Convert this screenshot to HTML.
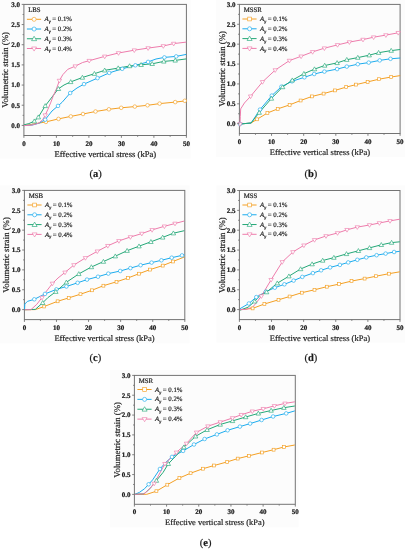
<!DOCTYPE html>
<html><head><meta charset="utf-8"><style>
html,body{margin:0;padding:0;background:#fff;}
body{width:405px;height:550px;overflow:hidden;}
svg{display:block;will-change:transform;filter:blur(0.3px);}
text{-webkit-font-smoothing:antialiased;}
text{font-family:"Liberation Serif",serif;fill:#1a1a1a;text-rendering:geometricPrecision;}
.tk{font-size:7.0px;font-weight:bold;stroke:#1a1a1a;stroke-width:0.22px;}
.ti{font-size:8.6px;stroke:#1a1a1a;stroke-width:0.18px;}
.lg{font-size:6.8px;stroke:#1a1a1a;stroke-width:0.18px;}
.yti{font-size:8.75px;}
.lt{stroke-width:0.2px;}
.cap{font-size:10.5px;stroke:#1a1a1a;stroke-width:0.2px;}
</style></head><body>
<svg width="405" height="550" viewBox="0 0 405 550">
<rect x="0" y="0" width="405" height="550" fill="#fff"/>
<g fill="#FCFCFC">
<rect x="0" y="0" width="190.5" height="158.7"/>
<rect x="216" y="0" width="189" height="156.8"/>
<rect x="0" y="185.5" width="189.6" height="157.8"/>
<rect x="216.3" y="185.5" width="188.7" height="157.1"/>
<rect x="110" y="370" width="188.5" height="157.4"/>
</g>
<rect x="23.90" y="4.40" width="162.50" height="131.10" fill="none" stroke="#737373" stroke-width="1"/>
<polyline points="24.00,125.60 32.90,124.10 45.90,121.90 58.50,118.90 70.80,116.40 83.00,114.00 95.50,111.50 108.90,109.30 121.20,107.80 134.80,106.60 147.50,105.30 159.60,103.60 175.20,102.10 186.30,100.80" fill="none" stroke="#F4A024" stroke-width="1" stroke-linejoin="round"/>
<polyline points="24.00,125.60 31.90,125.10 39.30,123.10 45.20,119.70 48.70,115.20 52.00,111.00 58.00,105.90 62.00,102.40 70.20,93.00 77.00,88.00 84.00,84.10 97.50,78.10 109.20,72.90 122.20,68.80 135.40,65.30 148.10,61.90 156.00,59.00 164.40,57.40 176.20,56.40 186.30,54.40" fill="none" stroke="#1CACEE" stroke-width="1" stroke-linejoin="round"/>
<polyline points="24.00,124.80 28.90,123.60 34.30,121.20 38.30,117.20 45.20,105.90 53.60,95.00 58.40,88.80 64.00,85.00 70.70,81.90 82.40,77.50 94.40,73.70 104.70,70.30 118.20,68.10 129.60,66.00 141.10,64.80 152.20,63.80 163.80,61.40 175.20,60.40 186.30,58.90" fill="none" stroke="#25A878" stroke-width="1" stroke-linejoin="round"/>
<polyline points="24.00,125.60 31.90,125.10 38.80,123.10 42.70,119.70 45.20,115.20 47.70,109.80 50.60,102.90 53.60,95.00 56.40,89.00 59.40,80.60 62.80,74.70 67.80,69.30 75.20,66.20 82.60,62.50 89.20,60.70 104.70,56.40 118.50,53.00 134.30,50.20 148.10,48.10 163.30,46.00 173.70,43.60 186.30,42.10" fill="none" stroke="#EE7CAC" stroke-width="1" stroke-linejoin="round"/>
<circle cx="45.90" cy="121.90" r="1.80" fill="#fff" stroke="#F4A024" stroke-width="0.65"/>
<circle cx="58.50" cy="118.90" r="1.80" fill="#fff" stroke="#F4A024" stroke-width="0.65"/>
<circle cx="70.80" cy="116.40" r="1.80" fill="#fff" stroke="#F4A024" stroke-width="0.65"/>
<circle cx="83.00" cy="114.00" r="1.80" fill="#fff" stroke="#F4A024" stroke-width="0.65"/>
<circle cx="95.50" cy="111.50" r="1.80" fill="#fff" stroke="#F4A024" stroke-width="0.65"/>
<circle cx="108.90" cy="109.30" r="1.80" fill="#fff" stroke="#F4A024" stroke-width="0.65"/>
<circle cx="121.20" cy="107.80" r="1.80" fill="#fff" stroke="#F4A024" stroke-width="0.65"/>
<circle cx="134.80" cy="106.60" r="1.80" fill="#fff" stroke="#F4A024" stroke-width="0.65"/>
<circle cx="147.50" cy="105.30" r="1.80" fill="#fff" stroke="#F4A024" stroke-width="0.65"/>
<circle cx="159.60" cy="103.60" r="1.80" fill="#fff" stroke="#F4A024" stroke-width="0.65"/>
<circle cx="175.20" cy="102.10" r="1.80" fill="#fff" stroke="#F4A024" stroke-width="0.65"/>
<circle cx="184.80" cy="100.80" r="1.80" fill="#fff" stroke="#F4A024" stroke-width="0.65"/>
<circle cx="45.20" cy="119.70" r="1.80" fill="#fff" stroke="#1CACEE" stroke-width="0.65"/>
<circle cx="58.00" cy="105.90" r="1.80" fill="#fff" stroke="#1CACEE" stroke-width="0.65"/>
<circle cx="70.20" cy="93.00" r="1.80" fill="#fff" stroke="#1CACEE" stroke-width="0.65"/>
<circle cx="84.00" cy="84.10" r="1.80" fill="#fff" stroke="#1CACEE" stroke-width="0.65"/>
<circle cx="97.50" cy="78.10" r="1.80" fill="#fff" stroke="#1CACEE" stroke-width="0.65"/>
<circle cx="109.20" cy="72.90" r="1.80" fill="#fff" stroke="#1CACEE" stroke-width="0.65"/>
<circle cx="122.20" cy="68.80" r="1.80" fill="#fff" stroke="#1CACEE" stroke-width="0.65"/>
<circle cx="135.40" cy="65.30" r="1.80" fill="#fff" stroke="#1CACEE" stroke-width="0.65"/>
<circle cx="148.10" cy="61.90" r="1.80" fill="#fff" stroke="#1CACEE" stroke-width="0.65"/>
<circle cx="164.40" cy="57.40" r="1.80" fill="#fff" stroke="#1CACEE" stroke-width="0.65"/>
<circle cx="176.20" cy="56.40" r="1.80" fill="#fff" stroke="#1CACEE" stroke-width="0.65"/>
<path d="M34.30,118.95L36.55,122.89L32.05,122.89Z" fill="#fff" stroke="#25A878" stroke-width="0.65"/>
<path d="M38.30,114.95L40.55,118.89L36.05,118.89Z" fill="#fff" stroke="#25A878" stroke-width="0.65"/>
<path d="M45.20,103.65L47.45,107.59L42.95,107.59Z" fill="#fff" stroke="#25A878" stroke-width="0.65"/>
<path d="M58.40,86.55L60.65,90.49L56.15,90.49Z" fill="#fff" stroke="#25A878" stroke-width="0.65"/>
<path d="M70.70,79.65L72.95,83.59L68.45,83.59Z" fill="#fff" stroke="#25A878" stroke-width="0.65"/>
<path d="M82.40,75.25L84.65,79.19L80.15,79.19Z" fill="#fff" stroke="#25A878" stroke-width="0.65"/>
<path d="M94.40,71.45L96.65,75.39L92.15,75.39Z" fill="#fff" stroke="#25A878" stroke-width="0.65"/>
<path d="M104.70,68.05L106.95,71.99L102.45,71.99Z" fill="#fff" stroke="#25A878" stroke-width="0.65"/>
<path d="M118.20,65.85L120.45,69.79L115.95,69.79Z" fill="#fff" stroke="#25A878" stroke-width="0.65"/>
<path d="M129.60,63.75L131.85,67.69L127.35,67.69Z" fill="#fff" stroke="#25A878" stroke-width="0.65"/>
<path d="M141.10,62.55L143.35,66.49L138.85,66.49Z" fill="#fff" stroke="#25A878" stroke-width="0.65"/>
<path d="M152.20,61.55L154.45,65.49L149.95,65.49Z" fill="#fff" stroke="#25A878" stroke-width="0.65"/>
<path d="M163.80,59.15L166.05,63.09L161.55,63.09Z" fill="#fff" stroke="#25A878" stroke-width="0.65"/>
<path d="M175.20,58.15L177.45,62.09L172.95,62.09Z" fill="#fff" stroke="#25A878" stroke-width="0.65"/>
<path d="M45.20,117.51L47.40,113.88L43.00,113.88Z" fill="#fff" stroke="#EE7CAC" stroke-width="0.65"/>
<path d="M59.40,82.91L61.60,79.28L57.20,79.28Z" fill="#fff" stroke="#EE7CAC" stroke-width="0.65"/>
<path d="M75.20,68.51L77.40,64.88L73.00,64.88Z" fill="#fff" stroke="#EE7CAC" stroke-width="0.65"/>
<path d="M89.20,63.01L91.40,59.38L87.00,59.38Z" fill="#fff" stroke="#EE7CAC" stroke-width="0.65"/>
<path d="M104.70,58.71L106.90,55.08L102.50,55.08Z" fill="#fff" stroke="#EE7CAC" stroke-width="0.65"/>
<path d="M118.50,55.31L120.70,51.68L116.30,51.68Z" fill="#fff" stroke="#EE7CAC" stroke-width="0.65"/>
<path d="M134.30,52.51L136.50,48.88L132.10,48.88Z" fill="#fff" stroke="#EE7CAC" stroke-width="0.65"/>
<path d="M148.10,50.41L150.30,46.78L145.90,46.78Z" fill="#fff" stroke="#EE7CAC" stroke-width="0.65"/>
<path d="M163.30,48.31L165.50,44.68L161.10,44.68Z" fill="#fff" stroke="#EE7CAC" stroke-width="0.65"/>
<path d="M173.70,45.91L175.90,42.28L171.50,42.28Z" fill="#fff" stroke="#EE7CAC" stroke-width="0.65"/>
<line x1="21.70" y1="125.40" x2="23.90" y2="125.40" stroke="#737373" stroke-width="0.9"/>
<text x="20.10" y="127.80" text-anchor="end" class="tk">0.0</text>
<line x1="22.60" y1="115.32" x2="23.90" y2="115.32" stroke="#737373" stroke-width="0.9"/>
<line x1="21.70" y1="105.23" x2="23.90" y2="105.23" stroke="#737373" stroke-width="0.9"/>
<text x="20.10" y="107.63" text-anchor="end" class="tk">0.5</text>
<line x1="22.60" y1="95.15" x2="23.90" y2="95.15" stroke="#737373" stroke-width="0.9"/>
<line x1="21.70" y1="85.07" x2="23.90" y2="85.07" stroke="#737373" stroke-width="0.9"/>
<text x="20.10" y="87.47" text-anchor="end" class="tk">1.0</text>
<line x1="22.60" y1="74.98" x2="23.90" y2="74.98" stroke="#737373" stroke-width="0.9"/>
<line x1="21.70" y1="64.90" x2="23.90" y2="64.90" stroke="#737373" stroke-width="0.9"/>
<text x="20.10" y="67.30" text-anchor="end" class="tk">1.5</text>
<line x1="22.60" y1="54.82" x2="23.90" y2="54.82" stroke="#737373" stroke-width="0.9"/>
<line x1="21.70" y1="44.73" x2="23.90" y2="44.73" stroke="#737373" stroke-width="0.9"/>
<text x="20.10" y="47.13" text-anchor="end" class="tk">2.0</text>
<line x1="22.60" y1="34.65" x2="23.90" y2="34.65" stroke="#737373" stroke-width="0.9"/>
<line x1="21.70" y1="24.57" x2="23.90" y2="24.57" stroke="#737373" stroke-width="0.9"/>
<text x="20.10" y="26.97" text-anchor="end" class="tk">2.5</text>
<line x1="22.60" y1="14.48" x2="23.90" y2="14.48" stroke="#737373" stroke-width="0.9"/>
<line x1="21.70" y1="4.40" x2="23.90" y2="4.40" stroke="#737373" stroke-width="0.9"/>
<text x="20.10" y="6.80" text-anchor="end" class="tk">3.0</text>
<line x1="23.90" y1="135.50" x2="23.90" y2="137.80" stroke="#737373" stroke-width="0.9"/>
<text x="23.90" y="145.60" text-anchor="middle" class="tk">0</text>
<line x1="40.15" y1="135.50" x2="40.15" y2="136.80" stroke="#737373" stroke-width="0.9"/>
<line x1="56.40" y1="135.50" x2="56.40" y2="137.80" stroke="#737373" stroke-width="0.9"/>
<text x="56.40" y="145.60" text-anchor="middle" class="tk">10</text>
<line x1="72.65" y1="135.50" x2="72.65" y2="136.80" stroke="#737373" stroke-width="0.9"/>
<line x1="88.90" y1="135.50" x2="88.90" y2="137.80" stroke="#737373" stroke-width="0.9"/>
<text x="88.90" y="145.60" text-anchor="middle" class="tk">20</text>
<line x1="105.15" y1="135.50" x2="105.15" y2="136.80" stroke="#737373" stroke-width="0.9"/>
<line x1="121.40" y1="135.50" x2="121.40" y2="137.80" stroke="#737373" stroke-width="0.9"/>
<text x="121.40" y="145.60" text-anchor="middle" class="tk">30</text>
<line x1="137.65" y1="135.50" x2="137.65" y2="136.80" stroke="#737373" stroke-width="0.9"/>
<line x1="153.90" y1="135.50" x2="153.90" y2="137.80" stroke="#737373" stroke-width="0.9"/>
<text x="153.90" y="145.60" text-anchor="middle" class="tk">40</text>
<line x1="170.15" y1="135.50" x2="170.15" y2="136.80" stroke="#737373" stroke-width="0.9"/>
<line x1="186.40" y1="135.50" x2="186.40" y2="137.80" stroke="#737373" stroke-width="0.9"/>
<text x="186.40" y="145.60" text-anchor="middle" class="tk">50</text>
<text x="105.40" y="156.50" text-anchor="middle" class="ti" style="font-size:8.65px">Effective vertical stress (kPa)</text>
<text transform="translate(8.10,69.95) rotate(-90)" text-anchor="middle" class="ti yti">Volumetric strain (%)</text>
<text x="28.20" y="12.10" class="lg lt">LBS</text>
<line x1="26.90" y1="19.30" x2="41.10" y2="19.30" stroke="#F4A024" stroke-width="1"/>
<circle cx="34.10" cy="19.30" r="2.02" fill="#fff" stroke="#F4A024" stroke-width="0.65"/>
<text x="44.50" y="21.40" class="lg"><tspan font-style="italic">A</tspan><tspan font-style="italic" font-size="4.8" dy="1.9">γ</tspan><tspan dy="-1.9"> = 0.1%</tspan></text>
<line x1="26.90" y1="29.03" x2="41.10" y2="29.03" stroke="#1CACEE" stroke-width="1"/>
<circle cx="34.10" cy="29.03" r="2.02" fill="#fff" stroke="#1CACEE" stroke-width="0.65"/>
<text x="44.50" y="31.13" class="lg"><tspan font-style="italic">A</tspan><tspan font-style="italic" font-size="4.8" dy="1.9">γ</tspan><tspan dy="-1.9"> = 0.2%</tspan></text>
<line x1="26.90" y1="38.76" x2="41.10" y2="38.76" stroke="#25A878" stroke-width="1"/>
<path d="M34.10,36.24L36.62,40.65L31.58,40.65Z" fill="#fff" stroke="#25A878" stroke-width="0.65"/>
<text x="44.50" y="40.86" class="lg"><tspan font-style="italic">A</tspan><tspan font-style="italic" font-size="4.8" dy="1.9">γ</tspan><tspan dy="-1.9"> = 0.3%</tspan></text>
<line x1="26.90" y1="48.49" x2="41.10" y2="48.49" stroke="#EE7CAC" stroke-width="1"/>
<path d="M34.10,51.07L36.56,47.01L31.64,47.01Z" fill="#fff" stroke="#EE7CAC" stroke-width="0.65"/>
<text x="44.50" y="50.59" class="lg"><tspan font-style="italic">A</tspan><tspan font-style="italic" font-size="4.8" dy="1.9">γ</tspan><tspan dy="-1.9"> = 0.4%</tspan></text>
<text x="95.50" y="176.75" text-anchor="middle" class="cap">(<tspan font-weight="bold">a</tspan>)</text>
<rect x="239.40" y="4.40" width="160.70" height="129.10" fill="none" stroke="#737373" stroke-width="1"/>
<polyline points="240.00,124.00 251.10,123.00 257.00,119.30 267.40,113.00 277.70,108.90 289.60,104.90 300.60,100.50 312.10,96.40 323.60,93.60 335.00,90.40 346.20,87.10 356.10,84.60 367.60,81.90 379.00,79.20 391.20,77.00 400.20,75.60" fill="none" stroke="#F4A024" stroke-width="1" stroke-linejoin="round"/>
<polyline points="240.00,124.00 251.10,123.00 260.00,109.60 271.80,95.60 281.40,86.70 292.00,81.30 304.40,77.30 314.20,74.00 324.40,71.60 337.10,69.10 346.80,66.60 357.80,64.20 368.70,62.60 379.70,60.40 390.50,58.80 400.20,58.00" fill="none" stroke="#1CACEE" stroke-width="1" stroke-linejoin="round"/>
<polyline points="240.00,124.00 251.10,123.00 259.20,112.60 271.40,98.50 282.60,87.00 292.30,80.20 303.90,73.70 314.50,69.10 324.70,65.50 337.10,62.90 346.80,59.70 357.80,57.60 369.20,55.20 378.60,52.70 391.20,50.60 400.20,49.50" fill="none" stroke="#25A878" stroke-width="1" stroke-linejoin="round"/>
<polyline points="240.00,124.00 240.30,116.30 240.70,108.90 244.40,103.00 250.60,96.30 262.50,81.90 275.20,70.10 289.40,60.60 301.10,56.30 312.60,51.90 324.40,48.20 337.50,44.90 349.40,42.10 363.00,39.60 373.60,37.20 385.90,35.10 398.20,32.80 400.20,32.30" fill="none" stroke="#EE7CAC" stroke-width="1" stroke-linejoin="round"/>
<rect x="255.56" y="117.86" width="2.88" height="2.88" fill="#fff" stroke="#F4A024" stroke-width="0.65"/>
<rect x="265.96" y="111.56" width="2.88" height="2.88" fill="#fff" stroke="#F4A024" stroke-width="0.65"/>
<rect x="276.26" y="107.46" width="2.88" height="2.88" fill="#fff" stroke="#F4A024" stroke-width="0.65"/>
<rect x="288.16" y="103.46" width="2.88" height="2.88" fill="#fff" stroke="#F4A024" stroke-width="0.65"/>
<rect x="299.16" y="99.06" width="2.88" height="2.88" fill="#fff" stroke="#F4A024" stroke-width="0.65"/>
<rect x="310.66" y="94.96" width="2.88" height="2.88" fill="#fff" stroke="#F4A024" stroke-width="0.65"/>
<rect x="322.16" y="92.16" width="2.88" height="2.88" fill="#fff" stroke="#F4A024" stroke-width="0.65"/>
<rect x="333.56" y="88.96" width="2.88" height="2.88" fill="#fff" stroke="#F4A024" stroke-width="0.65"/>
<rect x="344.76" y="85.66" width="2.88" height="2.88" fill="#fff" stroke="#F4A024" stroke-width="0.65"/>
<rect x="354.66" y="83.16" width="2.88" height="2.88" fill="#fff" stroke="#F4A024" stroke-width="0.65"/>
<rect x="366.16" y="80.46" width="2.88" height="2.88" fill="#fff" stroke="#F4A024" stroke-width="0.65"/>
<rect x="377.56" y="77.76" width="2.88" height="2.88" fill="#fff" stroke="#F4A024" stroke-width="0.65"/>
<rect x="389.76" y="75.56" width="2.88" height="2.88" fill="#fff" stroke="#F4A024" stroke-width="0.65"/>
<circle cx="240.00" cy="124.00" r="1.80" fill="#fff" stroke="#1CACEE" stroke-width="0.65"/>
<circle cx="260.00" cy="109.60" r="1.80" fill="#fff" stroke="#1CACEE" stroke-width="0.65"/>
<circle cx="271.80" cy="95.60" r="1.80" fill="#fff" stroke="#1CACEE" stroke-width="0.65"/>
<circle cx="281.40" cy="86.70" r="1.80" fill="#fff" stroke="#1CACEE" stroke-width="0.65"/>
<circle cx="292.00" cy="81.30" r="1.80" fill="#fff" stroke="#1CACEE" stroke-width="0.65"/>
<circle cx="304.40" cy="77.30" r="1.80" fill="#fff" stroke="#1CACEE" stroke-width="0.65"/>
<circle cx="314.20" cy="74.00" r="1.80" fill="#fff" stroke="#1CACEE" stroke-width="0.65"/>
<circle cx="324.40" cy="71.60" r="1.80" fill="#fff" stroke="#1CACEE" stroke-width="0.65"/>
<circle cx="337.10" cy="69.10" r="1.80" fill="#fff" stroke="#1CACEE" stroke-width="0.65"/>
<circle cx="346.80" cy="66.60" r="1.80" fill="#fff" stroke="#1CACEE" stroke-width="0.65"/>
<circle cx="357.80" cy="64.20" r="1.80" fill="#fff" stroke="#1CACEE" stroke-width="0.65"/>
<circle cx="368.70" cy="62.60" r="1.80" fill="#fff" stroke="#1CACEE" stroke-width="0.65"/>
<circle cx="379.70" cy="60.40" r="1.80" fill="#fff" stroke="#1CACEE" stroke-width="0.65"/>
<circle cx="390.50" cy="58.80" r="1.80" fill="#fff" stroke="#1CACEE" stroke-width="0.65"/>
<path d="M259.20,110.35L261.45,114.29L256.95,114.29Z" fill="#fff" stroke="#25A878" stroke-width="0.65"/>
<path d="M271.40,96.25L273.65,100.19L269.15,100.19Z" fill="#fff" stroke="#25A878" stroke-width="0.65"/>
<path d="M282.60,84.75L284.85,88.69L280.35,88.69Z" fill="#fff" stroke="#25A878" stroke-width="0.65"/>
<path d="M292.30,77.95L294.55,81.89L290.05,81.89Z" fill="#fff" stroke="#25A878" stroke-width="0.65"/>
<path d="M303.90,71.45L306.15,75.39L301.65,75.39Z" fill="#fff" stroke="#25A878" stroke-width="0.65"/>
<path d="M314.50,66.85L316.75,70.79L312.25,70.79Z" fill="#fff" stroke="#25A878" stroke-width="0.65"/>
<path d="M324.70,63.25L326.95,67.19L322.45,67.19Z" fill="#fff" stroke="#25A878" stroke-width="0.65"/>
<path d="M337.10,60.65L339.35,64.59L334.85,64.59Z" fill="#fff" stroke="#25A878" stroke-width="0.65"/>
<path d="M346.80,57.45L349.05,61.39L344.55,61.39Z" fill="#fff" stroke="#25A878" stroke-width="0.65"/>
<path d="M357.80,55.35L360.05,59.29L355.55,59.29Z" fill="#fff" stroke="#25A878" stroke-width="0.65"/>
<path d="M369.20,52.95L371.45,56.89L366.95,56.89Z" fill="#fff" stroke="#25A878" stroke-width="0.65"/>
<path d="M378.60,50.45L380.85,54.39L376.35,54.39Z" fill="#fff" stroke="#25A878" stroke-width="0.65"/>
<path d="M391.20,48.35L393.45,52.29L388.95,52.29Z" fill="#fff" stroke="#25A878" stroke-width="0.65"/>
<path d="M240.00,126.31L242.20,122.68L237.80,122.68Z" fill="#fff" stroke="#EE7CAC" stroke-width="0.65"/>
<path d="M250.60,98.61L252.80,94.98L248.40,94.98Z" fill="#fff" stroke="#EE7CAC" stroke-width="0.65"/>
<path d="M262.50,84.21L264.70,80.58L260.30,80.58Z" fill="#fff" stroke="#EE7CAC" stroke-width="0.65"/>
<path d="M275.20,72.41L277.40,68.78L273.00,68.78Z" fill="#fff" stroke="#EE7CAC" stroke-width="0.65"/>
<path d="M289.40,62.91L291.60,59.28L287.20,59.28Z" fill="#fff" stroke="#EE7CAC" stroke-width="0.65"/>
<path d="M301.10,58.61L303.30,54.98L298.90,54.98Z" fill="#fff" stroke="#EE7CAC" stroke-width="0.65"/>
<path d="M312.60,54.21L314.80,50.58L310.40,50.58Z" fill="#fff" stroke="#EE7CAC" stroke-width="0.65"/>
<path d="M324.40,50.51L326.60,46.88L322.20,46.88Z" fill="#fff" stroke="#EE7CAC" stroke-width="0.65"/>
<path d="M337.50,47.21L339.70,43.58L335.30,43.58Z" fill="#fff" stroke="#EE7CAC" stroke-width="0.65"/>
<path d="M349.40,44.41L351.60,40.78L347.20,40.78Z" fill="#fff" stroke="#EE7CAC" stroke-width="0.65"/>
<path d="M363.00,41.91L365.20,38.28L360.80,38.28Z" fill="#fff" stroke="#EE7CAC" stroke-width="0.65"/>
<path d="M373.60,39.51L375.80,35.88L371.40,35.88Z" fill="#fff" stroke="#EE7CAC" stroke-width="0.65"/>
<path d="M385.90,37.41L388.10,33.78L383.70,33.78Z" fill="#fff" stroke="#EE7CAC" stroke-width="0.65"/>
<path d="M398.20,35.11L400.40,31.48L396.00,31.48Z" fill="#fff" stroke="#EE7CAC" stroke-width="0.65"/>
<line x1="237.20" y1="123.70" x2="239.40" y2="123.70" stroke="#737373" stroke-width="0.9"/>
<text x="235.60" y="126.10" text-anchor="end" class="tk">0.0</text>
<line x1="238.10" y1="113.76" x2="239.40" y2="113.76" stroke="#737373" stroke-width="0.9"/>
<line x1="237.20" y1="103.82" x2="239.40" y2="103.82" stroke="#737373" stroke-width="0.9"/>
<text x="235.60" y="106.22" text-anchor="end" class="tk">0.5</text>
<line x1="238.10" y1="93.88" x2="239.40" y2="93.88" stroke="#737373" stroke-width="0.9"/>
<line x1="237.20" y1="83.93" x2="239.40" y2="83.93" stroke="#737373" stroke-width="0.9"/>
<text x="235.60" y="86.33" text-anchor="end" class="tk">1.0</text>
<line x1="238.10" y1="73.99" x2="239.40" y2="73.99" stroke="#737373" stroke-width="0.9"/>
<line x1="237.20" y1="64.05" x2="239.40" y2="64.05" stroke="#737373" stroke-width="0.9"/>
<text x="235.60" y="66.45" text-anchor="end" class="tk">1.5</text>
<line x1="238.10" y1="54.11" x2="239.40" y2="54.11" stroke="#737373" stroke-width="0.9"/>
<line x1="237.20" y1="44.17" x2="239.40" y2="44.17" stroke="#737373" stroke-width="0.9"/>
<text x="235.60" y="46.57" text-anchor="end" class="tk">2.0</text>
<line x1="238.10" y1="34.23" x2="239.40" y2="34.23" stroke="#737373" stroke-width="0.9"/>
<line x1="237.20" y1="24.28" x2="239.40" y2="24.28" stroke="#737373" stroke-width="0.9"/>
<text x="235.60" y="26.68" text-anchor="end" class="tk">2.5</text>
<line x1="238.10" y1="14.34" x2="239.40" y2="14.34" stroke="#737373" stroke-width="0.9"/>
<line x1="237.20" y1="4.40" x2="239.40" y2="4.40" stroke="#737373" stroke-width="0.9"/>
<text x="235.60" y="6.80" text-anchor="end" class="tk">3.0</text>
<line x1="239.40" y1="133.50" x2="239.40" y2="135.80" stroke="#737373" stroke-width="0.9"/>
<text x="239.40" y="143.60" text-anchor="middle" class="tk">0</text>
<line x1="255.47" y1="133.50" x2="255.47" y2="134.80" stroke="#737373" stroke-width="0.9"/>
<line x1="271.54" y1="133.50" x2="271.54" y2="135.80" stroke="#737373" stroke-width="0.9"/>
<text x="271.54" y="143.60" text-anchor="middle" class="tk">10</text>
<line x1="287.61" y1="133.50" x2="287.61" y2="134.80" stroke="#737373" stroke-width="0.9"/>
<line x1="303.68" y1="133.50" x2="303.68" y2="135.80" stroke="#737373" stroke-width="0.9"/>
<text x="303.68" y="143.60" text-anchor="middle" class="tk">20</text>
<line x1="319.75" y1="133.50" x2="319.75" y2="134.80" stroke="#737373" stroke-width="0.9"/>
<line x1="335.82" y1="133.50" x2="335.82" y2="135.80" stroke="#737373" stroke-width="0.9"/>
<text x="335.82" y="143.60" text-anchor="middle" class="tk">30</text>
<line x1="351.89" y1="133.50" x2="351.89" y2="134.80" stroke="#737373" stroke-width="0.9"/>
<line x1="367.96" y1="133.50" x2="367.96" y2="135.80" stroke="#737373" stroke-width="0.9"/>
<text x="367.96" y="143.60" text-anchor="middle" class="tk">40</text>
<line x1="384.03" y1="133.50" x2="384.03" y2="134.80" stroke="#737373" stroke-width="0.9"/>
<line x1="400.10" y1="133.50" x2="400.10" y2="135.80" stroke="#737373" stroke-width="0.9"/>
<text x="400.10" y="143.60" text-anchor="middle" class="tk">50</text>
<text x="319.95" y="154.50" text-anchor="middle" class="ti" style="font-size:8.5px">Effective vertical stress (kPa)</text>
<text transform="translate(224.60,68.95) rotate(-90)" text-anchor="middle" class="ti yti">Volumetric strain (%)</text>
<text x="243.70" y="11.90" class="lg lt">MSSR</text>
<line x1="242.40" y1="19.00" x2="256.60" y2="19.00" stroke="#F4A024" stroke-width="1"/>
<rect x="247.73" y="17.13" width="3.74" height="3.74" fill="#fff" stroke="#F4A024" stroke-width="0.65"/>
<text x="260.00" y="21.10" class="lg"><tspan font-style="italic">A</tspan><tspan font-style="italic" font-size="4.8" dy="1.9">γ</tspan><tspan dy="-1.9"> = 0.1%</tspan></text>
<line x1="242.40" y1="28.80" x2="256.60" y2="28.80" stroke="#1CACEE" stroke-width="1"/>
<circle cx="249.60" cy="28.80" r="2.02" fill="#fff" stroke="#1CACEE" stroke-width="0.65"/>
<text x="260.00" y="30.90" class="lg"><tspan font-style="italic">A</tspan><tspan font-style="italic" font-size="4.8" dy="1.9">γ</tspan><tspan dy="-1.9"> = 0.2%</tspan></text>
<line x1="242.40" y1="38.60" x2="256.60" y2="38.60" stroke="#25A878" stroke-width="1"/>
<path d="M249.60,36.08L252.12,40.49L247.08,40.49Z" fill="#fff" stroke="#25A878" stroke-width="0.65"/>
<text x="260.00" y="40.70" class="lg"><tspan font-style="italic">A</tspan><tspan font-style="italic" font-size="4.8" dy="1.9">γ</tspan><tspan dy="-1.9"> = 0.3%</tspan></text>
<line x1="242.40" y1="48.40" x2="256.60" y2="48.40" stroke="#EE7CAC" stroke-width="1"/>
<path d="M249.60,50.98L252.06,46.92L247.14,46.92Z" fill="#fff" stroke="#EE7CAC" stroke-width="0.65"/>
<text x="260.00" y="50.50" class="lg"><tspan font-style="italic">A</tspan><tspan font-style="italic" font-size="4.8" dy="1.9">γ</tspan><tspan dy="-1.9"> = 0.4%</tspan></text>
<text x="310.85" y="176.75" text-anchor="middle" class="cap">(<tspan font-weight="bold">b</tspan>)</text>
<rect x="24.40" y="190.40" width="160.40" height="129.20" fill="none" stroke="#737373" stroke-width="1"/>
<polyline points="25.00,309.70 35.30,309.60 44.20,306.50 57.60,301.30 68.70,297.90 80.50,294.20 91.90,290.30 103.40,285.70 116.50,281.80 127.90,278.00 139.00,273.70 150.00,269.60 162.70,265.60 172.90,261.50 184.30,257.00" fill="none" stroke="#F4A024" stroke-width="1" stroke-linejoin="round"/>
<polyline points="24.60,309.20 24.80,304.00 27.40,301.40 34.30,299.30 45.00,293.90 56.40,289.40 66.40,286.50 77.60,282.80 87.00,279.60 98.00,276.70 108.30,273.60 120.20,271.00 130.40,268.10 140.60,265.20 151.60,262.60 161.40,260.30 171.70,257.70 182.00,255.40 184.30,254.90" fill="none" stroke="#1CACEE" stroke-width="1" stroke-linejoin="round"/>
<polyline points="25.00,309.70 35.30,309.40 42.70,302.80 47.90,297.60 55.80,291.70 66.40,282.30 78.80,273.90 91.40,267.00 103.40,261.60 115.30,256.20 127.10,250.70 139.00,246.20 150.90,241.80 162.70,237.40 173.40,233.20 184.30,230.70" fill="none" stroke="#25A878" stroke-width="1" stroke-linejoin="round"/>
<polyline points="25.00,309.70 30.90,309.70 36.80,304.30 42.00,297.60 45.00,293.10 52.40,283.50 58.00,278.00 65.00,272.40 73.90,265.00 78.00,262.50 85.40,257.90 97.30,251.30 107.80,245.80 118.90,240.90 130.40,237.00 141.80,233.60 152.10,229.90 164.40,226.30 175.00,223.50 184.30,221.00" fill="none" stroke="#EE7CAC" stroke-width="1" stroke-linejoin="round"/>
<rect x="42.76" y="305.06" width="2.88" height="2.88" fill="#fff" stroke="#F4A024" stroke-width="0.65"/>
<rect x="56.16" y="299.86" width="2.88" height="2.88" fill="#fff" stroke="#F4A024" stroke-width="0.65"/>
<rect x="67.26" y="296.46" width="2.88" height="2.88" fill="#fff" stroke="#F4A024" stroke-width="0.65"/>
<rect x="79.06" y="292.76" width="2.88" height="2.88" fill="#fff" stroke="#F4A024" stroke-width="0.65"/>
<rect x="90.46" y="288.86" width="2.88" height="2.88" fill="#fff" stroke="#F4A024" stroke-width="0.65"/>
<rect x="101.96" y="284.26" width="2.88" height="2.88" fill="#fff" stroke="#F4A024" stroke-width="0.65"/>
<rect x="115.06" y="280.36" width="2.88" height="2.88" fill="#fff" stroke="#F4A024" stroke-width="0.65"/>
<rect x="126.46" y="276.56" width="2.88" height="2.88" fill="#fff" stroke="#F4A024" stroke-width="0.65"/>
<rect x="137.56" y="272.26" width="2.88" height="2.88" fill="#fff" stroke="#F4A024" stroke-width="0.65"/>
<rect x="148.56" y="268.16" width="2.88" height="2.88" fill="#fff" stroke="#F4A024" stroke-width="0.65"/>
<rect x="161.26" y="264.16" width="2.88" height="2.88" fill="#fff" stroke="#F4A024" stroke-width="0.65"/>
<rect x="171.46" y="260.06" width="2.88" height="2.88" fill="#fff" stroke="#F4A024" stroke-width="0.65"/>
<circle cx="34.30" cy="299.30" r="1.80" fill="#fff" stroke="#1CACEE" stroke-width="0.65"/>
<circle cx="45.00" cy="293.90" r="1.80" fill="#fff" stroke="#1CACEE" stroke-width="0.65"/>
<circle cx="56.40" cy="289.40" r="1.80" fill="#fff" stroke="#1CACEE" stroke-width="0.65"/>
<circle cx="66.40" cy="286.50" r="1.80" fill="#fff" stroke="#1CACEE" stroke-width="0.65"/>
<circle cx="77.60" cy="282.80" r="1.80" fill="#fff" stroke="#1CACEE" stroke-width="0.65"/>
<circle cx="87.00" cy="279.60" r="1.80" fill="#fff" stroke="#1CACEE" stroke-width="0.65"/>
<circle cx="98.00" cy="276.70" r="1.80" fill="#fff" stroke="#1CACEE" stroke-width="0.65"/>
<circle cx="108.30" cy="273.60" r="1.80" fill="#fff" stroke="#1CACEE" stroke-width="0.65"/>
<circle cx="120.20" cy="271.00" r="1.80" fill="#fff" stroke="#1CACEE" stroke-width="0.65"/>
<circle cx="130.40" cy="268.10" r="1.80" fill="#fff" stroke="#1CACEE" stroke-width="0.65"/>
<circle cx="140.60" cy="265.20" r="1.80" fill="#fff" stroke="#1CACEE" stroke-width="0.65"/>
<circle cx="151.60" cy="262.60" r="1.80" fill="#fff" stroke="#1CACEE" stroke-width="0.65"/>
<circle cx="161.40" cy="260.30" r="1.80" fill="#fff" stroke="#1CACEE" stroke-width="0.65"/>
<circle cx="171.70" cy="257.70" r="1.80" fill="#fff" stroke="#1CACEE" stroke-width="0.65"/>
<circle cx="182.00" cy="255.40" r="1.80" fill="#fff" stroke="#1CACEE" stroke-width="0.65"/>
<path d="M42.70,300.55L44.95,304.49L40.45,304.49Z" fill="#fff" stroke="#25A878" stroke-width="0.65"/>
<path d="M55.80,289.45L58.05,293.39L53.55,293.39Z" fill="#fff" stroke="#25A878" stroke-width="0.65"/>
<path d="M66.40,280.05L68.65,283.99L64.15,283.99Z" fill="#fff" stroke="#25A878" stroke-width="0.65"/>
<path d="M78.80,271.65L81.05,275.59L76.55,275.59Z" fill="#fff" stroke="#25A878" stroke-width="0.65"/>
<path d="M91.40,264.75L93.65,268.69L89.15,268.69Z" fill="#fff" stroke="#25A878" stroke-width="0.65"/>
<path d="M103.40,259.35L105.65,263.29L101.15,263.29Z" fill="#fff" stroke="#25A878" stroke-width="0.65"/>
<path d="M115.30,253.95L117.55,257.89L113.05,257.89Z" fill="#fff" stroke="#25A878" stroke-width="0.65"/>
<path d="M127.10,248.45L129.35,252.39L124.85,252.39Z" fill="#fff" stroke="#25A878" stroke-width="0.65"/>
<path d="M139.00,243.95L141.25,247.89L136.75,247.89Z" fill="#fff" stroke="#25A878" stroke-width="0.65"/>
<path d="M150.90,239.55L153.15,243.49L148.65,243.49Z" fill="#fff" stroke="#25A878" stroke-width="0.65"/>
<path d="M162.70,235.15L164.95,239.09L160.45,239.09Z" fill="#fff" stroke="#25A878" stroke-width="0.65"/>
<path d="M173.40,230.95L175.65,234.89L171.15,234.89Z" fill="#fff" stroke="#25A878" stroke-width="0.65"/>
<path d="M42.00,299.91L44.20,296.28L39.80,296.28Z" fill="#fff" stroke="#EE7CAC" stroke-width="0.65"/>
<path d="M52.40,285.81L54.60,282.18L50.20,282.18Z" fill="#fff" stroke="#EE7CAC" stroke-width="0.65"/>
<path d="M65.00,274.71L67.20,271.08L62.80,271.08Z" fill="#fff" stroke="#EE7CAC" stroke-width="0.65"/>
<path d="M73.90,267.31L76.10,263.68L71.70,263.68Z" fill="#fff" stroke="#EE7CAC" stroke-width="0.65"/>
<path d="M85.40,260.21L87.60,256.58L83.20,256.58Z" fill="#fff" stroke="#EE7CAC" stroke-width="0.65"/>
<path d="M97.30,253.61L99.50,249.98L95.10,249.98Z" fill="#fff" stroke="#EE7CAC" stroke-width="0.65"/>
<path d="M107.80,248.11L110.00,244.48L105.60,244.48Z" fill="#fff" stroke="#EE7CAC" stroke-width="0.65"/>
<path d="M118.90,243.21L121.10,239.58L116.70,239.58Z" fill="#fff" stroke="#EE7CAC" stroke-width="0.65"/>
<path d="M130.40,239.31L132.60,235.68L128.20,235.68Z" fill="#fff" stroke="#EE7CAC" stroke-width="0.65"/>
<path d="M141.80,235.91L144.00,232.28L139.60,232.28Z" fill="#fff" stroke="#EE7CAC" stroke-width="0.65"/>
<path d="M152.10,232.21L154.30,228.58L149.90,228.58Z" fill="#fff" stroke="#EE7CAC" stroke-width="0.65"/>
<path d="M164.40,228.61L166.60,224.98L162.20,224.98Z" fill="#fff" stroke="#EE7CAC" stroke-width="0.65"/>
<path d="M175.00,225.81L177.20,222.18L172.80,222.18Z" fill="#fff" stroke="#EE7CAC" stroke-width="0.65"/>
<line x1="22.20" y1="309.60" x2="24.40" y2="309.60" stroke="#737373" stroke-width="0.9"/>
<text x="20.60" y="312.00" text-anchor="end" class="tk">0.0</text>
<line x1="23.10" y1="299.67" x2="24.40" y2="299.67" stroke="#737373" stroke-width="0.9"/>
<line x1="22.20" y1="289.73" x2="24.40" y2="289.73" stroke="#737373" stroke-width="0.9"/>
<text x="20.60" y="292.13" text-anchor="end" class="tk">0.5</text>
<line x1="23.10" y1="279.80" x2="24.40" y2="279.80" stroke="#737373" stroke-width="0.9"/>
<line x1="22.20" y1="269.87" x2="24.40" y2="269.87" stroke="#737373" stroke-width="0.9"/>
<text x="20.60" y="272.27" text-anchor="end" class="tk">1.0</text>
<line x1="23.10" y1="259.93" x2="24.40" y2="259.93" stroke="#737373" stroke-width="0.9"/>
<line x1="22.20" y1="250.00" x2="24.40" y2="250.00" stroke="#737373" stroke-width="0.9"/>
<text x="20.60" y="252.40" text-anchor="end" class="tk">1.5</text>
<line x1="23.10" y1="240.07" x2="24.40" y2="240.07" stroke="#737373" stroke-width="0.9"/>
<line x1="22.20" y1="230.13" x2="24.40" y2="230.13" stroke="#737373" stroke-width="0.9"/>
<text x="20.60" y="232.53" text-anchor="end" class="tk">2.0</text>
<line x1="23.10" y1="220.20" x2="24.40" y2="220.20" stroke="#737373" stroke-width="0.9"/>
<line x1="22.20" y1="210.27" x2="24.40" y2="210.27" stroke="#737373" stroke-width="0.9"/>
<text x="20.60" y="212.67" text-anchor="end" class="tk">2.5</text>
<line x1="23.10" y1="200.33" x2="24.40" y2="200.33" stroke="#737373" stroke-width="0.9"/>
<line x1="22.20" y1="190.40" x2="24.40" y2="190.40" stroke="#737373" stroke-width="0.9"/>
<text x="20.60" y="192.80" text-anchor="end" class="tk">3.0</text>
<line x1="24.40" y1="319.60" x2="24.40" y2="321.90" stroke="#737373" stroke-width="0.9"/>
<text x="24.40" y="329.70" text-anchor="middle" class="tk">0</text>
<line x1="40.44" y1="319.60" x2="40.44" y2="320.90" stroke="#737373" stroke-width="0.9"/>
<line x1="56.48" y1="319.60" x2="56.48" y2="321.90" stroke="#737373" stroke-width="0.9"/>
<text x="56.48" y="329.70" text-anchor="middle" class="tk">10</text>
<line x1="72.52" y1="319.60" x2="72.52" y2="320.90" stroke="#737373" stroke-width="0.9"/>
<line x1="88.56" y1="319.60" x2="88.56" y2="321.90" stroke="#737373" stroke-width="0.9"/>
<text x="88.56" y="329.70" text-anchor="middle" class="tk">20</text>
<line x1="104.60" y1="319.60" x2="104.60" y2="320.90" stroke="#737373" stroke-width="0.9"/>
<line x1="120.64" y1="319.60" x2="120.64" y2="321.90" stroke="#737373" stroke-width="0.9"/>
<text x="120.64" y="329.70" text-anchor="middle" class="tk">30</text>
<line x1="136.68" y1="319.60" x2="136.68" y2="320.90" stroke="#737373" stroke-width="0.9"/>
<line x1="152.72" y1="319.60" x2="152.72" y2="321.90" stroke="#737373" stroke-width="0.9"/>
<text x="152.72" y="329.70" text-anchor="middle" class="tk">40</text>
<line x1="168.76" y1="319.60" x2="168.76" y2="320.90" stroke="#737373" stroke-width="0.9"/>
<line x1="184.80" y1="319.60" x2="184.80" y2="321.90" stroke="#737373" stroke-width="0.9"/>
<text x="184.80" y="329.70" text-anchor="middle" class="tk">50</text>
<text x="104.50" y="340.60" text-anchor="middle" class="ti" style="font-size:8.5px">Effective vertical stress (kPa)</text>
<text transform="translate(9.20,255.00) rotate(-90)" text-anchor="middle" class="ti yti">Volumetric strain (%)</text>
<text x="28.70" y="197.90" class="lg lt">MSB</text>
<line x1="27.40" y1="205.00" x2="41.60" y2="205.00" stroke="#F4A024" stroke-width="1"/>
<rect x="32.73" y="203.13" width="3.74" height="3.74" fill="#fff" stroke="#F4A024" stroke-width="0.65"/>
<text x="45.00" y="207.10" class="lg"><tspan font-style="italic">A</tspan><tspan font-style="italic" font-size="4.8" dy="1.9">γ</tspan><tspan dy="-1.9"> = 0.1%</tspan></text>
<line x1="27.40" y1="214.80" x2="41.60" y2="214.80" stroke="#1CACEE" stroke-width="1"/>
<circle cx="34.60" cy="214.80" r="2.02" fill="#fff" stroke="#1CACEE" stroke-width="0.65"/>
<text x="45.00" y="216.90" class="lg"><tspan font-style="italic">A</tspan><tspan font-style="italic" font-size="4.8" dy="1.9">γ</tspan><tspan dy="-1.9"> = 0.2%</tspan></text>
<line x1="27.40" y1="224.60" x2="41.60" y2="224.60" stroke="#25A878" stroke-width="1"/>
<path d="M34.60,222.08L37.12,226.49L32.08,226.49Z" fill="#fff" stroke="#25A878" stroke-width="0.65"/>
<text x="45.00" y="226.70" class="lg"><tspan font-style="italic">A</tspan><tspan font-style="italic" font-size="4.8" dy="1.9">γ</tspan><tspan dy="-1.9"> = 0.3%</tspan></text>
<line x1="27.40" y1="234.40" x2="41.60" y2="234.40" stroke="#EE7CAC" stroke-width="1"/>
<path d="M34.60,236.98L37.06,232.92L32.14,232.92Z" fill="#fff" stroke="#EE7CAC" stroke-width="0.65"/>
<text x="45.00" y="236.50" class="lg"><tspan font-style="italic">A</tspan><tspan font-style="italic" font-size="4.8" dy="1.9">γ</tspan><tspan dy="-1.9"> = 0.4%</tspan></text>
<text x="95.45" y="361.40" text-anchor="middle" class="cap">(<tspan font-weight="bold">c</tspan>)</text>
<rect x="239.40" y="190.50" width="160.60" height="129.10" fill="none" stroke="#737373" stroke-width="1"/>
<polyline points="240.00,309.70 252.60,308.40 264.40,304.00 278.50,299.80 289.60,296.50 301.80,292.70 314.50,289.80 326.80,286.70 339.10,284.10 351.50,281.10 364.60,278.60 376.10,276.20 388.90,273.70 399.80,271.80" fill="none" stroke="#F4A024" stroke-width="1" stroke-linejoin="round"/>
<polyline points="240.00,308.70 248.90,303.50 256.30,297.10 265.90,291.70 274.80,287.70 284.40,284.30 293.60,280.60 302.30,276.90 312.90,273.10 321.10,270.30 330.10,267.40 339.90,264.90 348.20,262.40 357.30,259.80 366.30,257.40 376.60,255.20 385.60,253.60 394.10,252.00 399.80,251.30" fill="none" stroke="#1CACEE" stroke-width="1" stroke-linejoin="round"/>
<polyline points="240.00,310.20 248.10,307.20 254.80,301.30 260.00,295.40 266.60,292.10 277.30,283.20 288.90,276.20 300.60,269.00 312.10,264.10 322.70,260.50 333.90,257.60 346.50,253.90 358.40,250.80 369.50,247.90 381.30,244.80 391.60,242.60 399.80,241.80" fill="none" stroke="#25A878" stroke-width="1" stroke-linejoin="round"/>
<polyline points="240.00,309.70 245.90,309.40 252.60,307.20 256.30,302.80 261.40,296.10 271.10,279.80 282.20,262.00 292.90,252.00 303.90,245.30 314.50,239.90 326.00,236.00 337.50,233.00 347.00,229.80 357.30,227.10 369.50,225.00 379.40,223.00 390.00,220.90 399.80,219.20" fill="none" stroke="#EE7CAC" stroke-width="1" stroke-linejoin="round"/>
<rect x="251.16" y="306.96" width="2.88" height="2.88" fill="#fff" stroke="#F4A024" stroke-width="0.65"/>
<rect x="262.96" y="302.56" width="2.88" height="2.88" fill="#fff" stroke="#F4A024" stroke-width="0.65"/>
<rect x="277.06" y="298.36" width="2.88" height="2.88" fill="#fff" stroke="#F4A024" stroke-width="0.65"/>
<rect x="288.16" y="295.06" width="2.88" height="2.88" fill="#fff" stroke="#F4A024" stroke-width="0.65"/>
<rect x="300.36" y="291.26" width="2.88" height="2.88" fill="#fff" stroke="#F4A024" stroke-width="0.65"/>
<rect x="313.06" y="288.36" width="2.88" height="2.88" fill="#fff" stroke="#F4A024" stroke-width="0.65"/>
<rect x="325.36" y="285.26" width="2.88" height="2.88" fill="#fff" stroke="#F4A024" stroke-width="0.65"/>
<rect x="337.66" y="282.66" width="2.88" height="2.88" fill="#fff" stroke="#F4A024" stroke-width="0.65"/>
<rect x="350.06" y="279.66" width="2.88" height="2.88" fill="#fff" stroke="#F4A024" stroke-width="0.65"/>
<rect x="363.16" y="277.16" width="2.88" height="2.88" fill="#fff" stroke="#F4A024" stroke-width="0.65"/>
<rect x="374.66" y="274.76" width="2.88" height="2.88" fill="#fff" stroke="#F4A024" stroke-width="0.65"/>
<rect x="387.46" y="272.26" width="2.88" height="2.88" fill="#fff" stroke="#F4A024" stroke-width="0.65"/>
<circle cx="248.90" cy="303.50" r="1.80" fill="#fff" stroke="#1CACEE" stroke-width="0.65"/>
<circle cx="256.30" cy="297.10" r="1.80" fill="#fff" stroke="#1CACEE" stroke-width="0.65"/>
<circle cx="265.90" cy="291.70" r="1.80" fill="#fff" stroke="#1CACEE" stroke-width="0.65"/>
<circle cx="274.80" cy="287.70" r="1.80" fill="#fff" stroke="#1CACEE" stroke-width="0.65"/>
<circle cx="284.40" cy="284.30" r="1.80" fill="#fff" stroke="#1CACEE" stroke-width="0.65"/>
<circle cx="293.60" cy="280.60" r="1.80" fill="#fff" stroke="#1CACEE" stroke-width="0.65"/>
<circle cx="302.30" cy="276.90" r="1.80" fill="#fff" stroke="#1CACEE" stroke-width="0.65"/>
<circle cx="312.90" cy="273.10" r="1.80" fill="#fff" stroke="#1CACEE" stroke-width="0.65"/>
<circle cx="321.10" cy="270.30" r="1.80" fill="#fff" stroke="#1CACEE" stroke-width="0.65"/>
<circle cx="330.10" cy="267.40" r="1.80" fill="#fff" stroke="#1CACEE" stroke-width="0.65"/>
<circle cx="339.90" cy="264.90" r="1.80" fill="#fff" stroke="#1CACEE" stroke-width="0.65"/>
<circle cx="348.20" cy="262.40" r="1.80" fill="#fff" stroke="#1CACEE" stroke-width="0.65"/>
<circle cx="357.30" cy="259.80" r="1.80" fill="#fff" stroke="#1CACEE" stroke-width="0.65"/>
<circle cx="366.30" cy="257.40" r="1.80" fill="#fff" stroke="#1CACEE" stroke-width="0.65"/>
<circle cx="376.60" cy="255.20" r="1.80" fill="#fff" stroke="#1CACEE" stroke-width="0.65"/>
<circle cx="385.60" cy="253.60" r="1.80" fill="#fff" stroke="#1CACEE" stroke-width="0.65"/>
<circle cx="394.10" cy="252.00" r="1.80" fill="#fff" stroke="#1CACEE" stroke-width="0.65"/>
<path d="M254.80,299.05L257.05,302.99L252.55,302.99Z" fill="#fff" stroke="#25A878" stroke-width="0.65"/>
<path d="M266.60,289.85L268.85,293.79L264.35,293.79Z" fill="#fff" stroke="#25A878" stroke-width="0.65"/>
<path d="M277.30,280.95L279.55,284.89L275.05,284.89Z" fill="#fff" stroke="#25A878" stroke-width="0.65"/>
<path d="M288.90,273.95L291.15,277.89L286.65,277.89Z" fill="#fff" stroke="#25A878" stroke-width="0.65"/>
<path d="M300.60,266.75L302.85,270.69L298.35,270.69Z" fill="#fff" stroke="#25A878" stroke-width="0.65"/>
<path d="M312.10,261.85L314.35,265.79L309.85,265.79Z" fill="#fff" stroke="#25A878" stroke-width="0.65"/>
<path d="M322.70,258.25L324.95,262.19L320.45,262.19Z" fill="#fff" stroke="#25A878" stroke-width="0.65"/>
<path d="M333.90,255.35L336.15,259.29L331.65,259.29Z" fill="#fff" stroke="#25A878" stroke-width="0.65"/>
<path d="M346.50,251.65L348.75,255.59L344.25,255.59Z" fill="#fff" stroke="#25A878" stroke-width="0.65"/>
<path d="M358.40,248.55L360.65,252.49L356.15,252.49Z" fill="#fff" stroke="#25A878" stroke-width="0.65"/>
<path d="M369.50,245.65L371.75,249.59L367.25,249.59Z" fill="#fff" stroke="#25A878" stroke-width="0.65"/>
<path d="M381.30,242.55L383.55,246.49L379.05,246.49Z" fill="#fff" stroke="#25A878" stroke-width="0.65"/>
<path d="M391.60,240.35L393.85,244.29L389.35,244.29Z" fill="#fff" stroke="#25A878" stroke-width="0.65"/>
<path d="M261.40,298.41L263.60,294.78L259.20,294.78Z" fill="#fff" stroke="#EE7CAC" stroke-width="0.65"/>
<path d="M271.10,282.11L273.30,278.48L268.90,278.48Z" fill="#fff" stroke="#EE7CAC" stroke-width="0.65"/>
<path d="M282.20,264.31L284.40,260.68L280.00,260.68Z" fill="#fff" stroke="#EE7CAC" stroke-width="0.65"/>
<path d="M292.90,254.31L295.10,250.68L290.70,250.68Z" fill="#fff" stroke="#EE7CAC" stroke-width="0.65"/>
<path d="M303.90,247.61L306.10,243.98L301.70,243.98Z" fill="#fff" stroke="#EE7CAC" stroke-width="0.65"/>
<path d="M314.50,242.21L316.70,238.58L312.30,238.58Z" fill="#fff" stroke="#EE7CAC" stroke-width="0.65"/>
<path d="M326.00,238.31L328.20,234.68L323.80,234.68Z" fill="#fff" stroke="#EE7CAC" stroke-width="0.65"/>
<path d="M337.50,235.31L339.70,231.68L335.30,231.68Z" fill="#fff" stroke="#EE7CAC" stroke-width="0.65"/>
<path d="M347.00,232.11L349.20,228.48L344.80,228.48Z" fill="#fff" stroke="#EE7CAC" stroke-width="0.65"/>
<path d="M357.30,229.41L359.50,225.78L355.10,225.78Z" fill="#fff" stroke="#EE7CAC" stroke-width="0.65"/>
<path d="M369.50,227.31L371.70,223.68L367.30,223.68Z" fill="#fff" stroke="#EE7CAC" stroke-width="0.65"/>
<path d="M379.40,225.31L381.60,221.68L377.20,221.68Z" fill="#fff" stroke="#EE7CAC" stroke-width="0.65"/>
<path d="M390.00,223.21L392.20,219.58L387.80,219.58Z" fill="#fff" stroke="#EE7CAC" stroke-width="0.65"/>
<line x1="237.20" y1="309.60" x2="239.40" y2="309.60" stroke="#737373" stroke-width="0.9"/>
<text x="235.60" y="312.00" text-anchor="end" class="tk">0.0</text>
<line x1="238.10" y1="299.68" x2="239.40" y2="299.68" stroke="#737373" stroke-width="0.9"/>
<line x1="237.20" y1="289.75" x2="239.40" y2="289.75" stroke="#737373" stroke-width="0.9"/>
<text x="235.60" y="292.15" text-anchor="end" class="tk">0.5</text>
<line x1="238.10" y1="279.83" x2="239.40" y2="279.83" stroke="#737373" stroke-width="0.9"/>
<line x1="237.20" y1="269.90" x2="239.40" y2="269.90" stroke="#737373" stroke-width="0.9"/>
<text x="235.60" y="272.30" text-anchor="end" class="tk">1.0</text>
<line x1="238.10" y1="259.98" x2="239.40" y2="259.98" stroke="#737373" stroke-width="0.9"/>
<line x1="237.20" y1="250.05" x2="239.40" y2="250.05" stroke="#737373" stroke-width="0.9"/>
<text x="235.60" y="252.45" text-anchor="end" class="tk">1.5</text>
<line x1="238.10" y1="240.12" x2="239.40" y2="240.12" stroke="#737373" stroke-width="0.9"/>
<line x1="237.20" y1="230.20" x2="239.40" y2="230.20" stroke="#737373" stroke-width="0.9"/>
<text x="235.60" y="232.60" text-anchor="end" class="tk">2.0</text>
<line x1="238.10" y1="220.28" x2="239.40" y2="220.28" stroke="#737373" stroke-width="0.9"/>
<line x1="237.20" y1="210.35" x2="239.40" y2="210.35" stroke="#737373" stroke-width="0.9"/>
<text x="235.60" y="212.75" text-anchor="end" class="tk">2.5</text>
<line x1="238.10" y1="200.43" x2="239.40" y2="200.43" stroke="#737373" stroke-width="0.9"/>
<line x1="237.20" y1="190.50" x2="239.40" y2="190.50" stroke="#737373" stroke-width="0.9"/>
<text x="235.60" y="192.90" text-anchor="end" class="tk">3.0</text>
<line x1="239.40" y1="319.60" x2="239.40" y2="321.90" stroke="#737373" stroke-width="0.9"/>
<text x="239.40" y="329.70" text-anchor="middle" class="tk">0</text>
<line x1="255.46" y1="319.60" x2="255.46" y2="320.90" stroke="#737373" stroke-width="0.9"/>
<line x1="271.52" y1="319.60" x2="271.52" y2="321.90" stroke="#737373" stroke-width="0.9"/>
<text x="271.52" y="329.70" text-anchor="middle" class="tk">10</text>
<line x1="287.58" y1="319.60" x2="287.58" y2="320.90" stroke="#737373" stroke-width="0.9"/>
<line x1="303.64" y1="319.60" x2="303.64" y2="321.90" stroke="#737373" stroke-width="0.9"/>
<text x="303.64" y="329.70" text-anchor="middle" class="tk">20</text>
<line x1="319.70" y1="319.60" x2="319.70" y2="320.90" stroke="#737373" stroke-width="0.9"/>
<line x1="335.76" y1="319.60" x2="335.76" y2="321.90" stroke="#737373" stroke-width="0.9"/>
<text x="335.76" y="329.70" text-anchor="middle" class="tk">30</text>
<line x1="351.82" y1="319.60" x2="351.82" y2="320.90" stroke="#737373" stroke-width="0.9"/>
<line x1="367.88" y1="319.60" x2="367.88" y2="321.90" stroke="#737373" stroke-width="0.9"/>
<text x="367.88" y="329.70" text-anchor="middle" class="tk">40</text>
<line x1="383.94" y1="319.60" x2="383.94" y2="320.90" stroke="#737373" stroke-width="0.9"/>
<line x1="400.00" y1="319.60" x2="400.00" y2="321.90" stroke="#737373" stroke-width="0.9"/>
<text x="400.00" y="329.70" text-anchor="middle" class="tk">50</text>
<text x="319.95" y="340.60" text-anchor="middle" class="ti" style="font-size:8.5px">Effective vertical stress (kPa)</text>
<text transform="translate(224.50,255.05) rotate(-90)" text-anchor="middle" class="ti yti">Volumetric strain (%)</text>
<text x="243.70" y="197.90" class="lg lt">MSS</text>
<line x1="242.40" y1="205.00" x2="256.60" y2="205.00" stroke="#F4A024" stroke-width="1"/>
<rect x="247.73" y="203.13" width="3.74" height="3.74" fill="#fff" stroke="#F4A024" stroke-width="0.65"/>
<text x="260.00" y="207.10" class="lg"><tspan font-style="italic">A</tspan><tspan font-style="italic" font-size="4.8" dy="1.9">γ</tspan><tspan dy="-1.9"> = 0.1%</tspan></text>
<line x1="242.40" y1="214.77" x2="256.60" y2="214.77" stroke="#1CACEE" stroke-width="1"/>
<circle cx="249.60" cy="214.77" r="2.02" fill="#fff" stroke="#1CACEE" stroke-width="0.65"/>
<text x="260.00" y="216.87" class="lg"><tspan font-style="italic">A</tspan><tspan font-style="italic" font-size="4.8" dy="1.9">γ</tspan><tspan dy="-1.9"> = 0.2%</tspan></text>
<line x1="242.40" y1="224.54" x2="256.60" y2="224.54" stroke="#25A878" stroke-width="1"/>
<path d="M249.60,222.02L252.12,226.43L247.08,226.43Z" fill="#fff" stroke="#25A878" stroke-width="0.65"/>
<text x="260.00" y="226.64" class="lg"><tspan font-style="italic">A</tspan><tspan font-style="italic" font-size="4.8" dy="1.9">γ</tspan><tspan dy="-1.9"> = 0.3%</tspan></text>
<line x1="242.40" y1="234.31" x2="256.60" y2="234.31" stroke="#EE7CAC" stroke-width="1"/>
<path d="M249.60,236.89L252.06,232.83L247.14,232.83Z" fill="#fff" stroke="#EE7CAC" stroke-width="0.65"/>
<text x="260.00" y="236.41" class="lg"><tspan font-style="italic">A</tspan><tspan font-style="italic" font-size="4.8" dy="1.9">γ</tspan><tspan dy="-1.9"> = 0.4%</tspan></text>
<text x="310.85" y="361.40" text-anchor="middle" class="cap">(<tspan font-weight="bold">d</tspan>)</text>
<rect x="134.40" y="375.40" width="160.90" height="128.90" fill="none" stroke="#737373" stroke-width="1"/>
<polyline points="135.00,494.30 146.80,494.30 156.40,491.20 167.30,484.70 179.40,478.00 190.60,473.20 203.00,468.70 214.10,465.50 227.20,461.90 237.70,458.60 249.00,455.80 262.10,452.50 273.60,449.70 283.90,447.00 294.80,445.00" fill="none" stroke="#F4A024" stroke-width="1" stroke-linejoin="round"/>
<polyline points="135.00,494.30 139.40,492.40 144.60,488.70 148.60,484.30 152.70,479.80 159.90,469.00 166.10,462.00 172.00,456.90 183.10,450.90 194.00,444.50 204.60,439.00 216.90,434.40 227.60,430.30 239.90,426.60 250.10,423.60 261.60,420.00 273.10,416.50 286.20,413.40 294.80,410.90" fill="none" stroke="#1CACEE" stroke-width="1" stroke-linejoin="round"/>
<polyline points="135.00,494.30 143.90,493.90 149.80,488.70 156.40,480.60 163.10,472.40 168.30,463.80 175.00,456.90 183.90,447.20 195.60,436.30 207.10,429.80 220.20,424.50 232.50,420.90 245.70,417.00 258.30,413.40 271.10,410.50 283.90,407.70 294.80,406.00" fill="none" stroke="#25A878" stroke-width="1" stroke-linejoin="round"/>
<polyline points="135.00,494.30 143.90,493.90 148.30,490.20 154.20,483.50 164.90,463.80 176.40,452.40 186.50,443.50 196.50,432.40 207.90,426.20 220.20,422.10 232.50,418.00 241.20,414.80 252.30,411.30 263.20,408.80 274.40,405.90 285.00,403.40 294.80,401.80" fill="none" stroke="#EE7CAC" stroke-width="1" stroke-linejoin="round"/>
<rect x="154.96" y="489.76" width="2.88" height="2.88" fill="#fff" stroke="#F4A024" stroke-width="0.65"/>
<rect x="165.86" y="483.26" width="2.88" height="2.88" fill="#fff" stroke="#F4A024" stroke-width="0.65"/>
<rect x="177.96" y="476.56" width="2.88" height="2.88" fill="#fff" stroke="#F4A024" stroke-width="0.65"/>
<rect x="189.16" y="471.76" width="2.88" height="2.88" fill="#fff" stroke="#F4A024" stroke-width="0.65"/>
<rect x="201.56" y="467.26" width="2.88" height="2.88" fill="#fff" stroke="#F4A024" stroke-width="0.65"/>
<rect x="212.66" y="464.06" width="2.88" height="2.88" fill="#fff" stroke="#F4A024" stroke-width="0.65"/>
<rect x="225.76" y="460.46" width="2.88" height="2.88" fill="#fff" stroke="#F4A024" stroke-width="0.65"/>
<rect x="236.26" y="457.16" width="2.88" height="2.88" fill="#fff" stroke="#F4A024" stroke-width="0.65"/>
<rect x="247.56" y="454.36" width="2.88" height="2.88" fill="#fff" stroke="#F4A024" stroke-width="0.65"/>
<rect x="260.66" y="451.06" width="2.88" height="2.88" fill="#fff" stroke="#F4A024" stroke-width="0.65"/>
<rect x="272.16" y="448.26" width="2.88" height="2.88" fill="#fff" stroke="#F4A024" stroke-width="0.65"/>
<rect x="282.46" y="445.56" width="2.88" height="2.88" fill="#fff" stroke="#F4A024" stroke-width="0.65"/>
<circle cx="148.60" cy="484.30" r="1.80" fill="#fff" stroke="#1CACEE" stroke-width="0.65"/>
<circle cx="159.90" cy="469.00" r="1.80" fill="#fff" stroke="#1CACEE" stroke-width="0.65"/>
<circle cx="172.00" cy="456.90" r="1.80" fill="#fff" stroke="#1CACEE" stroke-width="0.65"/>
<circle cx="183.10" cy="450.90" r="1.80" fill="#fff" stroke="#1CACEE" stroke-width="0.65"/>
<circle cx="194.00" cy="444.50" r="1.80" fill="#fff" stroke="#1CACEE" stroke-width="0.65"/>
<circle cx="204.60" cy="439.00" r="1.80" fill="#fff" stroke="#1CACEE" stroke-width="0.65"/>
<circle cx="216.90" cy="434.40" r="1.80" fill="#fff" stroke="#1CACEE" stroke-width="0.65"/>
<circle cx="227.60" cy="430.30" r="1.80" fill="#fff" stroke="#1CACEE" stroke-width="0.65"/>
<circle cx="239.90" cy="426.60" r="1.80" fill="#fff" stroke="#1CACEE" stroke-width="0.65"/>
<circle cx="250.10" cy="423.60" r="1.80" fill="#fff" stroke="#1CACEE" stroke-width="0.65"/>
<circle cx="261.60" cy="420.00" r="1.80" fill="#fff" stroke="#1CACEE" stroke-width="0.65"/>
<circle cx="273.10" cy="416.50" r="1.80" fill="#fff" stroke="#1CACEE" stroke-width="0.65"/>
<circle cx="286.20" cy="413.40" r="1.80" fill="#fff" stroke="#1CACEE" stroke-width="0.65"/>
<path d="M156.40,478.35L158.65,482.29L154.15,482.29Z" fill="#fff" stroke="#25A878" stroke-width="0.65"/>
<path d="M168.30,461.55L170.55,465.49L166.05,465.49Z" fill="#fff" stroke="#25A878" stroke-width="0.65"/>
<path d="M183.90,444.95L186.15,448.89L181.65,448.89Z" fill="#fff" stroke="#25A878" stroke-width="0.65"/>
<path d="M195.60,434.05L197.85,437.99L193.35,437.99Z" fill="#fff" stroke="#25A878" stroke-width="0.65"/>
<path d="M207.10,427.55L209.35,431.49L204.85,431.49Z" fill="#fff" stroke="#25A878" stroke-width="0.65"/>
<path d="M220.20,422.25L222.45,426.19L217.95,426.19Z" fill="#fff" stroke="#25A878" stroke-width="0.65"/>
<path d="M232.50,418.65L234.75,422.59L230.25,422.59Z" fill="#fff" stroke="#25A878" stroke-width="0.65"/>
<path d="M245.70,414.75L247.95,418.69L243.45,418.69Z" fill="#fff" stroke="#25A878" stroke-width="0.65"/>
<path d="M258.30,411.15L260.55,415.09L256.05,415.09Z" fill="#fff" stroke="#25A878" stroke-width="0.65"/>
<path d="M271.10,408.25L273.35,412.19L268.85,412.19Z" fill="#fff" stroke="#25A878" stroke-width="0.65"/>
<path d="M283.90,405.45L286.15,409.39L281.65,409.39Z" fill="#fff" stroke="#25A878" stroke-width="0.65"/>
<path d="M154.20,485.81L156.40,482.18L152.00,482.18Z" fill="#fff" stroke="#EE7CAC" stroke-width="0.65"/>
<path d="M164.90,466.11L167.10,462.48L162.70,462.48Z" fill="#fff" stroke="#EE7CAC" stroke-width="0.65"/>
<path d="M176.40,454.71L178.60,451.08L174.20,451.08Z" fill="#fff" stroke="#EE7CAC" stroke-width="0.65"/>
<path d="M186.50,445.81L188.70,442.18L184.30,442.18Z" fill="#fff" stroke="#EE7CAC" stroke-width="0.65"/>
<path d="M196.50,434.71L198.70,431.08L194.30,431.08Z" fill="#fff" stroke="#EE7CAC" stroke-width="0.65"/>
<path d="M207.90,428.51L210.10,424.88L205.70,424.88Z" fill="#fff" stroke="#EE7CAC" stroke-width="0.65"/>
<path d="M220.20,424.41L222.40,420.78L218.00,420.78Z" fill="#fff" stroke="#EE7CAC" stroke-width="0.65"/>
<path d="M232.50,420.31L234.70,416.68L230.30,416.68Z" fill="#fff" stroke="#EE7CAC" stroke-width="0.65"/>
<path d="M241.20,417.11L243.40,413.48L239.00,413.48Z" fill="#fff" stroke="#EE7CAC" stroke-width="0.65"/>
<path d="M252.30,413.61L254.50,409.98L250.10,409.98Z" fill="#fff" stroke="#EE7CAC" stroke-width="0.65"/>
<path d="M263.20,411.11L265.40,407.48L261.00,407.48Z" fill="#fff" stroke="#EE7CAC" stroke-width="0.65"/>
<path d="M274.40,408.21L276.60,404.58L272.20,404.58Z" fill="#fff" stroke="#EE7CAC" stroke-width="0.65"/>
<path d="M285.00,405.71L287.20,402.08L282.80,402.08Z" fill="#fff" stroke="#EE7CAC" stroke-width="0.65"/>
<line x1="132.20" y1="494.40" x2="134.40" y2="494.40" stroke="#737373" stroke-width="0.9"/>
<text x="130.60" y="496.80" text-anchor="end" class="tk">0.0</text>
<line x1="133.10" y1="484.48" x2="134.40" y2="484.48" stroke="#737373" stroke-width="0.9"/>
<line x1="132.20" y1="474.57" x2="134.40" y2="474.57" stroke="#737373" stroke-width="0.9"/>
<text x="130.60" y="476.97" text-anchor="end" class="tk">0.5</text>
<line x1="133.10" y1="464.65" x2="134.40" y2="464.65" stroke="#737373" stroke-width="0.9"/>
<line x1="132.20" y1="454.73" x2="134.40" y2="454.73" stroke="#737373" stroke-width="0.9"/>
<text x="130.60" y="457.13" text-anchor="end" class="tk">1.0</text>
<line x1="133.10" y1="444.82" x2="134.40" y2="444.82" stroke="#737373" stroke-width="0.9"/>
<line x1="132.20" y1="434.90" x2="134.40" y2="434.90" stroke="#737373" stroke-width="0.9"/>
<text x="130.60" y="437.30" text-anchor="end" class="tk">1.5</text>
<line x1="133.10" y1="424.98" x2="134.40" y2="424.98" stroke="#737373" stroke-width="0.9"/>
<line x1="132.20" y1="415.07" x2="134.40" y2="415.07" stroke="#737373" stroke-width="0.9"/>
<text x="130.60" y="417.47" text-anchor="end" class="tk">2.0</text>
<line x1="133.10" y1="405.15" x2="134.40" y2="405.15" stroke="#737373" stroke-width="0.9"/>
<line x1="132.20" y1="395.23" x2="134.40" y2="395.23" stroke="#737373" stroke-width="0.9"/>
<text x="130.60" y="397.63" text-anchor="end" class="tk">2.5</text>
<line x1="133.10" y1="385.32" x2="134.40" y2="385.32" stroke="#737373" stroke-width="0.9"/>
<line x1="132.20" y1="375.40" x2="134.40" y2="375.40" stroke="#737373" stroke-width="0.9"/>
<text x="130.60" y="377.80" text-anchor="end" class="tk">3.0</text>
<line x1="134.40" y1="504.30" x2="134.40" y2="506.60" stroke="#737373" stroke-width="0.9"/>
<text x="134.40" y="514.40" text-anchor="middle" class="tk">0</text>
<line x1="150.49" y1="504.30" x2="150.49" y2="505.60" stroke="#737373" stroke-width="0.9"/>
<line x1="166.58" y1="504.30" x2="166.58" y2="506.60" stroke="#737373" stroke-width="0.9"/>
<text x="166.58" y="514.40" text-anchor="middle" class="tk">10</text>
<line x1="182.67" y1="504.30" x2="182.67" y2="505.60" stroke="#737373" stroke-width="0.9"/>
<line x1="198.76" y1="504.30" x2="198.76" y2="506.60" stroke="#737373" stroke-width="0.9"/>
<text x="198.76" y="514.40" text-anchor="middle" class="tk">20</text>
<line x1="214.85" y1="504.30" x2="214.85" y2="505.60" stroke="#737373" stroke-width="0.9"/>
<line x1="230.94" y1="504.30" x2="230.94" y2="506.60" stroke="#737373" stroke-width="0.9"/>
<text x="230.94" y="514.40" text-anchor="middle" class="tk">30</text>
<line x1="247.03" y1="504.30" x2="247.03" y2="505.60" stroke="#737373" stroke-width="0.9"/>
<line x1="263.12" y1="504.30" x2="263.12" y2="506.60" stroke="#737373" stroke-width="0.9"/>
<text x="263.12" y="514.40" text-anchor="middle" class="tk">40</text>
<line x1="279.21" y1="504.30" x2="279.21" y2="505.60" stroke="#737373" stroke-width="0.9"/>
<line x1="295.30" y1="504.30" x2="295.30" y2="506.60" stroke="#737373" stroke-width="0.9"/>
<text x="295.30" y="514.40" text-anchor="middle" class="tk">50</text>
<text x="214.80" y="525.30" text-anchor="middle" class="ti" style="font-size:8.45px">Effective vertical stress (kPa)</text>
<text transform="translate(119.50,439.85) rotate(-90)" text-anchor="middle" class="ti yti">Volumetric strain (%)</text>
<text x="138.70" y="382.60" class="lg lt">MSR</text>
<line x1="137.40" y1="389.50" x2="151.60" y2="389.50" stroke="#F4A024" stroke-width="1"/>
<rect x="142.73" y="387.63" width="3.74" height="3.74" fill="#fff" stroke="#F4A024" stroke-width="0.65"/>
<text x="155.00" y="391.60" class="lg"><tspan font-style="italic">A</tspan><tspan font-style="italic" font-size="4.8" dy="1.9">γ</tspan><tspan dy="-1.9"> = 0.1%</tspan></text>
<line x1="137.40" y1="399.37" x2="151.60" y2="399.37" stroke="#1CACEE" stroke-width="1"/>
<circle cx="144.60" cy="399.37" r="2.02" fill="#fff" stroke="#1CACEE" stroke-width="0.65"/>
<text x="155.00" y="401.47" class="lg"><tspan font-style="italic">A</tspan><tspan font-style="italic" font-size="4.8" dy="1.9">γ</tspan><tspan dy="-1.9"> = 0.2%</tspan></text>
<line x1="137.40" y1="409.24" x2="151.60" y2="409.24" stroke="#25A878" stroke-width="1"/>
<path d="M144.60,406.72L147.12,411.13L142.08,411.13Z" fill="#fff" stroke="#25A878" stroke-width="0.65"/>
<text x="155.00" y="411.34" class="lg"><tspan font-style="italic">A</tspan><tspan font-style="italic" font-size="4.8" dy="1.9">γ</tspan><tspan dy="-1.9"> = 0.3%</tspan></text>
<line x1="137.40" y1="419.11" x2="151.60" y2="419.11" stroke="#EE7CAC" stroke-width="1"/>
<path d="M144.60,421.69L147.06,417.63L142.14,417.63Z" fill="#fff" stroke="#EE7CAC" stroke-width="0.65"/>
<text x="155.00" y="421.21" class="lg"><tspan font-style="italic">A</tspan><tspan font-style="italic" font-size="4.8" dy="1.9">γ</tspan><tspan dy="-1.9"> = 0.4%</tspan></text>
<text x="205.60" y="545.60" text-anchor="middle" class="cap">(<tspan font-weight="bold">e</tspan>)</text>
</svg>
</body></html>
